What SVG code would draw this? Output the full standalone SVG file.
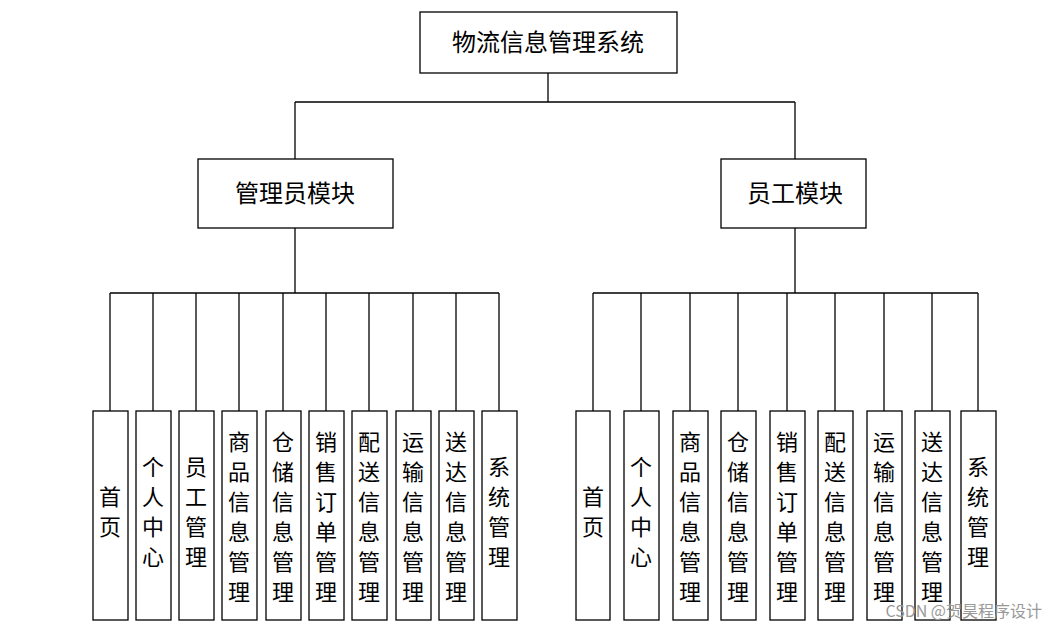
<svg xmlns="http://www.w3.org/2000/svg" width="1058" height="632" viewBox="0 0 1058 632">
<style>
rect{fill:#fff;stroke:#000;stroke-width:1.3}
.c line{stroke:#000;stroke-width:1.3}
text{font-family:"Noto Sans CJK SC","Liberation Sans",sans-serif;font-size:22px;fill:#000;text-anchor:middle}
.t{font-size:24px}
</style>
<rect width="1058" height="632" style="fill:#fff;stroke:none"/>
<g class="c">
<line x1="548" y1="73" x2="548" y2="102"/><line x1="295" y1="102" x2="795" y2="102"/>
<line x1="295" y1="102" x2="295" y2="159"/><line x1="795" y1="102" x2="795" y2="159"/>
<line x1="295" y1="228" x2="295" y2="293"/><line x1="110" y1="293" x2="499" y2="293"/>
<line x1="795" y1="228" x2="795" y2="293"/><line x1="593" y1="293" x2="978" y2="293"/>
<line x1="110" y1="293" x2="110" y2="411"/><line x1="153" y1="293" x2="153" y2="411"/><line x1="196" y1="293" x2="196" y2="411"/><line x1="239" y1="293" x2="239" y2="411"/><line x1="283" y1="293" x2="283" y2="411"/><line x1="326" y1="293" x2="326" y2="411"/><line x1="369" y1="293" x2="369" y2="411"/><line x1="413" y1="293" x2="413" y2="411"/><line x1="456" y1="293" x2="456" y2="411"/><line x1="499" y1="293" x2="499" y2="411"/>
<line x1="593" y1="293" x2="593" y2="411"/><line x1="641" y1="293" x2="641" y2="411"/><line x1="690" y1="293" x2="690" y2="411"/><line x1="738" y1="293" x2="738" y2="411"/><line x1="787" y1="293" x2="787" y2="411"/><line x1="835" y1="293" x2="835" y2="411"/><line x1="884" y1="293" x2="884" y2="411"/><line x1="932" y1="293" x2="932" y2="411"/><line x1="978" y1="293" x2="978" y2="411"/>
</g>
<g id="root"><rect x="420" y="12" width="257" height="61"/><text class="t" x="548" y="51">物流信息管理系统</text></g>
<g id="admin"><rect x="198" y="159" width="195" height="69"/><text class="t" x="295" y="202">管理员模块</text></g>
<g id="staff"><rect x="721" y="159" width="145" height="69"/><text class="t" x="795" y="202">员工模块</text></g>
<g id="a1"><rect x="93" y="411" width="35" height="209"/><text x="110"><tspan x="110" y="505">首</tspan><tspan x="110" y="535">页</tspan></text></g>
<g id="a2"><rect x="136" y="411" width="35" height="209"/><text><tspan x="153" y="475">个</tspan><tspan x="153" y="505">人</tspan><tspan x="153" y="535">中</tspan><tspan x="153" y="565">心</tspan></text></g>
<g id="a3"><rect x="179" y="411" width="35" height="209"/><text><tspan x="196" y="475">员</tspan><tspan x="196" y="505">工</tspan><tspan x="196" y="535">管</tspan><tspan x="196" y="565">理</tspan></text></g>
<g id="a4"><rect x="222" y="411" width="35" height="209"/><text><tspan x="239" y="450">商</tspan><tspan x="239" y="480">品</tspan><tspan x="239" y="510">信</tspan><tspan x="239" y="540">息</tspan><tspan x="239" y="570">管</tspan><tspan x="239" y="600">理</tspan></text></g>
<g id="a5"><rect x="266" y="411" width="35" height="209"/><text><tspan x="283" y="450">仓</tspan><tspan x="283" y="480">储</tspan><tspan x="283" y="510">信</tspan><tspan x="283" y="540">息</tspan><tspan x="283" y="570">管</tspan><tspan x="283" y="600">理</tspan></text></g>
<g id="a6"><rect x="309" y="411" width="35" height="209"/><text><tspan x="326" y="450">销</tspan><tspan x="326" y="480">售</tspan><tspan x="326" y="510">订</tspan><tspan x="326" y="540">单</tspan><tspan x="326" y="570">管</tspan><tspan x="326" y="600">理</tspan></text></g>
<g id="a7"><rect x="352" y="411" width="35" height="209"/><text><tspan x="369" y="450">配</tspan><tspan x="369" y="480">送</tspan><tspan x="369" y="510">信</tspan><tspan x="369" y="540">息</tspan><tspan x="369" y="570">管</tspan><tspan x="369" y="600">理</tspan></text></g>
<g id="a8"><rect x="396" y="411" width="35" height="209"/><text><tspan x="413" y="450">运</tspan><tspan x="413" y="480">输</tspan><tspan x="413" y="510">信</tspan><tspan x="413" y="540">息</tspan><tspan x="413" y="570">管</tspan><tspan x="413" y="600">理</tspan></text></g>
<g id="a9"><rect x="439" y="411" width="35" height="209"/><text><tspan x="456" y="450">送</tspan><tspan x="456" y="480">达</tspan><tspan x="456" y="510">信</tspan><tspan x="456" y="540">息</tspan><tspan x="456" y="570">管</tspan><tspan x="456" y="600">理</tspan></text></g>
<g id="a10"><rect x="482" y="411" width="35" height="209"/><text><tspan x="499" y="475">系</tspan><tspan x="499" y="505">统</tspan><tspan x="499" y="535">管</tspan><tspan x="499" y="565">理</tspan></text></g>
<g id="s1"><rect x="576" y="411" width="34" height="209"/><text><tspan x="593" y="505">首</tspan><tspan x="593" y="535">页</tspan></text></g>
<g id="s2"><rect x="624" y="411" width="35" height="209"/><text><tspan x="641" y="475">个</tspan><tspan x="641" y="505">人</tspan><tspan x="641" y="535">中</tspan><tspan x="641" y="565">心</tspan></text></g>
<g id="s3"><rect x="673" y="411" width="35" height="209"/><text><tspan x="690" y="450">商</tspan><tspan x="690" y="480">品</tspan><tspan x="690" y="510">信</tspan><tspan x="690" y="540">息</tspan><tspan x="690" y="570">管</tspan><tspan x="690" y="600">理</tspan></text></g>
<g id="s4"><rect x="721" y="411" width="35" height="209"/><text><tspan x="738" y="450">仓</tspan><tspan x="738" y="480">储</tspan><tspan x="738" y="510">信</tspan><tspan x="738" y="540">息</tspan><tspan x="738" y="570">管</tspan><tspan x="738" y="600">理</tspan></text></g>
<g id="s5"><rect x="770" y="411" width="35" height="209"/><text><tspan x="787" y="450">销</tspan><tspan x="787" y="480">售</tspan><tspan x="787" y="510">订</tspan><tspan x="787" y="540">单</tspan><tspan x="787" y="570">管</tspan><tspan x="787" y="600">理</tspan></text></g>
<g id="s6"><rect x="818" y="411" width="35" height="209"/><text><tspan x="835" y="450">配</tspan><tspan x="835" y="480">送</tspan><tspan x="835" y="510">信</tspan><tspan x="835" y="540">息</tspan><tspan x="835" y="570">管</tspan><tspan x="835" y="600">理</tspan></text></g>
<g id="s7"><rect x="867" y="411" width="35" height="209"/><text><tspan x="884" y="450">运</tspan><tspan x="884" y="480">输</tspan><tspan x="884" y="510">信</tspan><tspan x="884" y="540">息</tspan><tspan x="884" y="570">管</tspan><tspan x="884" y="600">理</tspan></text></g>
<g id="s8"><rect x="915" y="411" width="35" height="209"/><text><tspan x="932" y="450">送</tspan><tspan x="932" y="480">达</tspan><tspan x="932" y="510">信</tspan><tspan x="932" y="540">息</tspan><tspan x="932" y="570">管</tspan><tspan x="932" y="600">理</tspan></text></g>
<g id="s9"><rect x="961" y="411" width="35" height="209"/><text><tspan x="978" y="475">系</tspan><tspan x="978" y="505">统</tspan><tspan x="978" y="535">管</tspan><tspan x="978" y="565">理</tspan></text></g>
<text x="1042" y="617" style="font-size:16px;fill:#999;text-anchor:end">CSDN @贺昊程序设计</text>
</svg>
